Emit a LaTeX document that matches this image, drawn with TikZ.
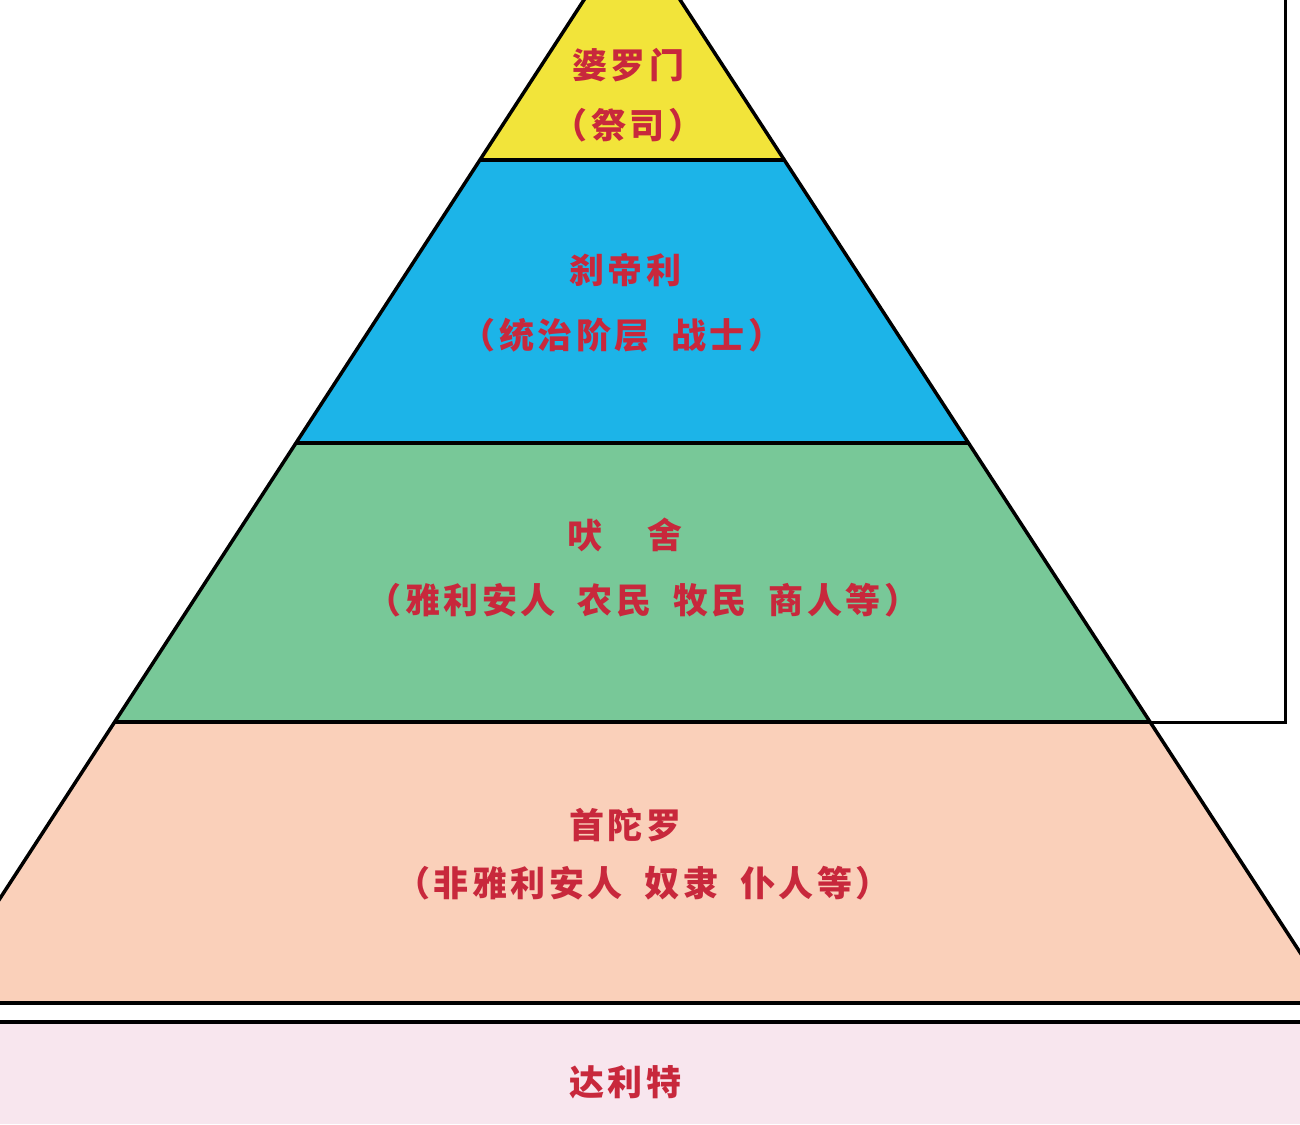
\documentclass[tikz,border=0pt]{standalone}
\usepackage{fontspec}
\newfontfamily\cjk[LetterSpace=10]{Noto Sans CJK SC}
\definecolor{txt}{HTML}{C8283C}
\definecolor{cy}{HTML}{F2E43A}
\definecolor{cb}{HTML}{1CB4E8}
\definecolor{cg}{HTML}{78C898}
\definecolor{cp}{HTML}{FAD0BA}
\definecolor{ck}{HTML}{F8E6EE}
\newcommand{\gp}{\hspace{22pt}}
\begin{document}
\begin{tikzpicture}[x=1pt,y=-1pt,
  lbl/.style={text=txt, font=\cjk\bfseries\fontsize{35}{38}\selectfont},
  band/.style={line width=4pt, black}]
\useasboundingbox (0,0) rectangle (1300,1124);
\fill[white] (0,0) rectangle (1300,1124);
\begin{scope}
\clip (0,0) rectangle (1300,1124);
\fill[ck] (0,1022) rectangle (1300,1124);
\coordinate (T) at (632,-74);
\coordinate (L1) at (480,160); \coordinate (R1) at (785,160);
\coordinate (L2) at (296,443); \coordinate (R2) at (968,443);
\coordinate (L3) at (115,722); \coordinate (R3) at (1150,722);
\coordinate (L4) at (-68,1003); \coordinate (R4) at (1333,1003);
\fill[cy] (T) -- (L1) -- (R1) -- cycle;
\fill[cb] (L1) -- (L2) -- (R2) -- (R1) -- cycle;
\fill[cg] (L2) -- (L3) -- (R3) -- (R2) -- cycle;
\fill[cp] (L3) -- (L4) -- (R4) -- (R3) -- cycle;
\draw[line width=3.5pt] (L4) -- (T) -- (R4);
\draw[band] (L1) -- (R1);
\draw[band] (L2) -- (R2);
\draw[band] (L3) -- (R3);
\draw[band] (0,1003) -- (1300,1003);
\draw[band] (0,1022) -- (1300,1022);
\draw[line width=3pt] (1285,0) -- (1285,722) -- (R3);
\end{scope}
\node[lbl] (a1) at (628,65) {婆罗门};
\node[lbl] (a2) at (628,125) {（祭司）};
\node[lbl] (b1) at (625,270) {刹帝利};
\node[lbl] (b2) at (622,335) {（统治阶层\gp 战士）};
\node[lbl] (c1) at (625,535) {吠\hspace{45pt}舍};
\node[lbl] (c2) at (643,600) {（雅利安人\gp 农民\gp 牧民\gp 商人等）};
\node[lbl] (d1) at (625,825) {首陀罗};
\node[lbl] (d2) at (643,883) {（非雅利安人\gp 奴隶\gp 仆人等）};
\node[lbl] (e1) at (625,1082) {达利特};
\end{tikzpicture}
\end{document}
